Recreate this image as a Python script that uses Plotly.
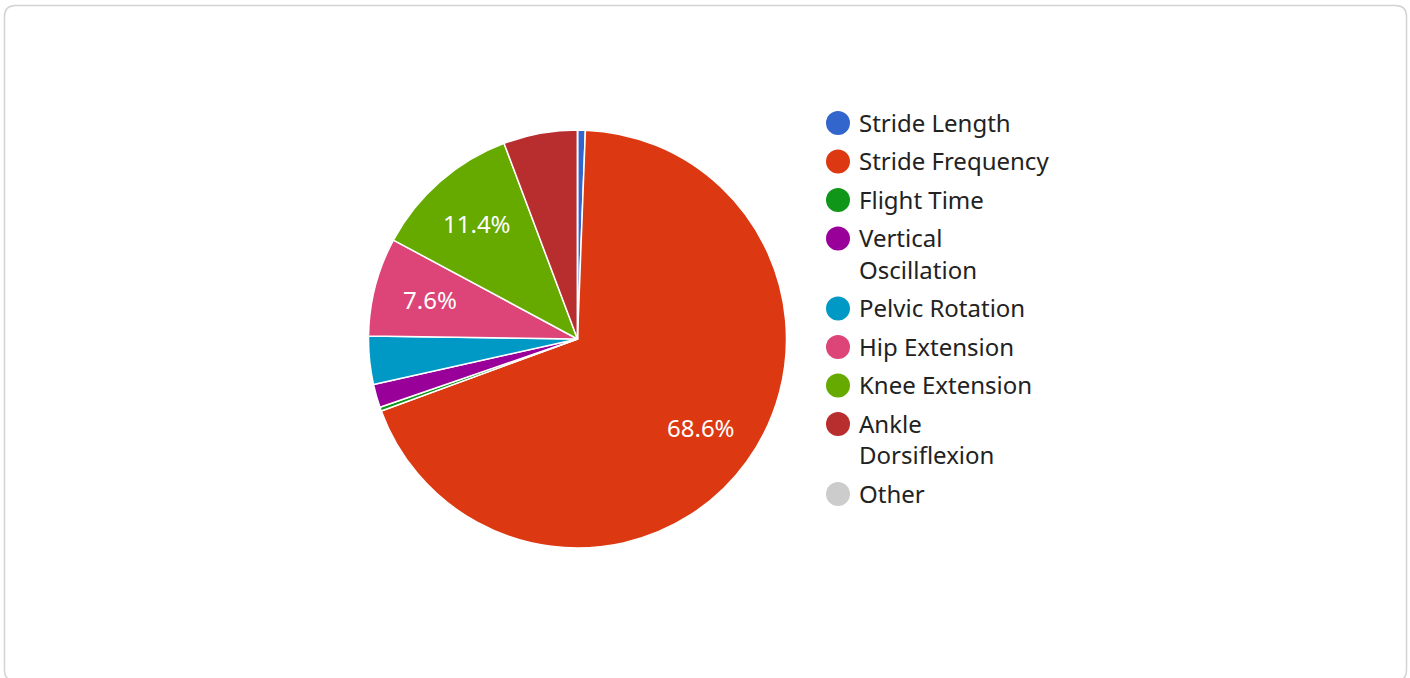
import math
import plotly.graph_objects as go

labels = ["Stride Length", "Stride Frequency", "Flight Time", "Vertical Oscillation",
          "Pelvic Rotation", "Hip Extension", "Knee Extension", "Ankle Dorsiflexion", "Other"]
legend_lines = [["Stride Length"], ["Stride Frequency"], ["Flight Time"], ["Vertical", "Oscillation"],
                ["Pelvic Rotation"], ["Hip Extension"], ["Knee Extension"], ["Ankle", "Dorsiflexion"], ["Other"]]
values = [0.6, 68.6, 0.3, 1.8, 3.7, 7.6, 11.4, 5.7, 0.0]
colors = ["#3366cc", "#dc3912", "#109618", "#990099", "#0099c6", "#dd4477", "#66aa00", "#b82e2e", "#cccccc"]

W, H = 1410, 678
FONT = "Noto Sans"

# pie geometry (pixels)
CX, CY, R = 577.5, 339, 209
LABEL_FRAC = 0.73
LABEL_MIN = 0.07

fig = go.Figure()
fig.add_trace(go.Pie(
    labels=labels, values=values, sort=False, direction="clockwise", rotation=0,
    marker=dict(colors=colors, line=dict(color="white", width=1.5)),
    textinfo="none",
    domain=dict(x=[(CX - R) / W, (CX + R) / W], y=[1 - (CY + R) / H, 1 - (CY - R) / H]),
    showlegend=False, hoverinfo="label+percent",
))

# slice percentage labels, placed at mid-angle of each slice
total = sum(values)
cum = 0.0
for v in values:
    frac = v / total
    mid = (cum + frac / 2) * 2 * math.pi
    cum += frac
    if frac >= LABEL_MIN:
        fig.add_annotation(
            x=CX + LABEL_FRAC * R * math.sin(mid), y=CY - LABEL_FRAC * R * math.cos(mid) - 1,
            xref="x", yref="y", text=f"{v:.1f}%", showarrow=False,
            font=dict(family=FONT, size=24, color="white"), xanchor="center", yanchor="middle")

# custom legend (circle markers + wrapped labels)
mx, tx = 838, 859
y0, step, wrap = 123, 38.5, 31.5
mk_y, txt_y, txt_s = [], [], []
cur = y0
for lines in legend_lines:
    mk_y.append(cur)
    for j, ln in enumerate(lines):
        txt_y.append(cur + j * wrap + 2.5)
        txt_s.append(ln)
    cur += step + wrap * (len(lines) - 1)

fig.add_trace(go.Scatter(
    x=[mx] * len(mk_y), y=mk_y, mode="markers",
    marker=dict(size=24, color=colors, line=dict(width=0)),
    showlegend=False, hoverinfo="skip"))
fig.add_trace(go.Scatter(
    x=[tx] * len(txt_y), y=txt_y, mode="text", text=txt_s, textposition="middle right",
    textfont=dict(family=FONT, size=24, color="#222222"),
    showlegend=False, hoverinfo="skip"))

# card border
r = 11
l, t, rt, b = 4.5, 5.5, 1406.5, 681
path = (f"M{l + r},{t} L{rt - r},{t} Q{rt},{t} {rt},{t + r} L{rt},{b - r} Q{rt},{b} {rt - r},{b} "
        f"L{l + r},{b} Q{l},{b} {l},{b - r} L{l},{t + r} Q{l},{t} {l + r},{t} Z")
fig.add_shape(type="path", path=path, xref="x", yref="y",
              line=dict(color="#d3d3d3", width=1.5), layer="below")

fig.update_layout(
    width=W, height=H, margin=dict(l=0, r=0, t=0, b=0),
    paper_bgcolor="white", plot_bgcolor="rgba(0,0,0,0)",
    xaxis=dict(range=[0, W], domain=[0, 1], visible=False, fixedrange=True),
    yaxis=dict(range=[H, 0], domain=[0, 1], visible=False, fixedrange=True),
    font=dict(family=FONT),
    showlegend=False,
)

fig.write_html("out.html")
